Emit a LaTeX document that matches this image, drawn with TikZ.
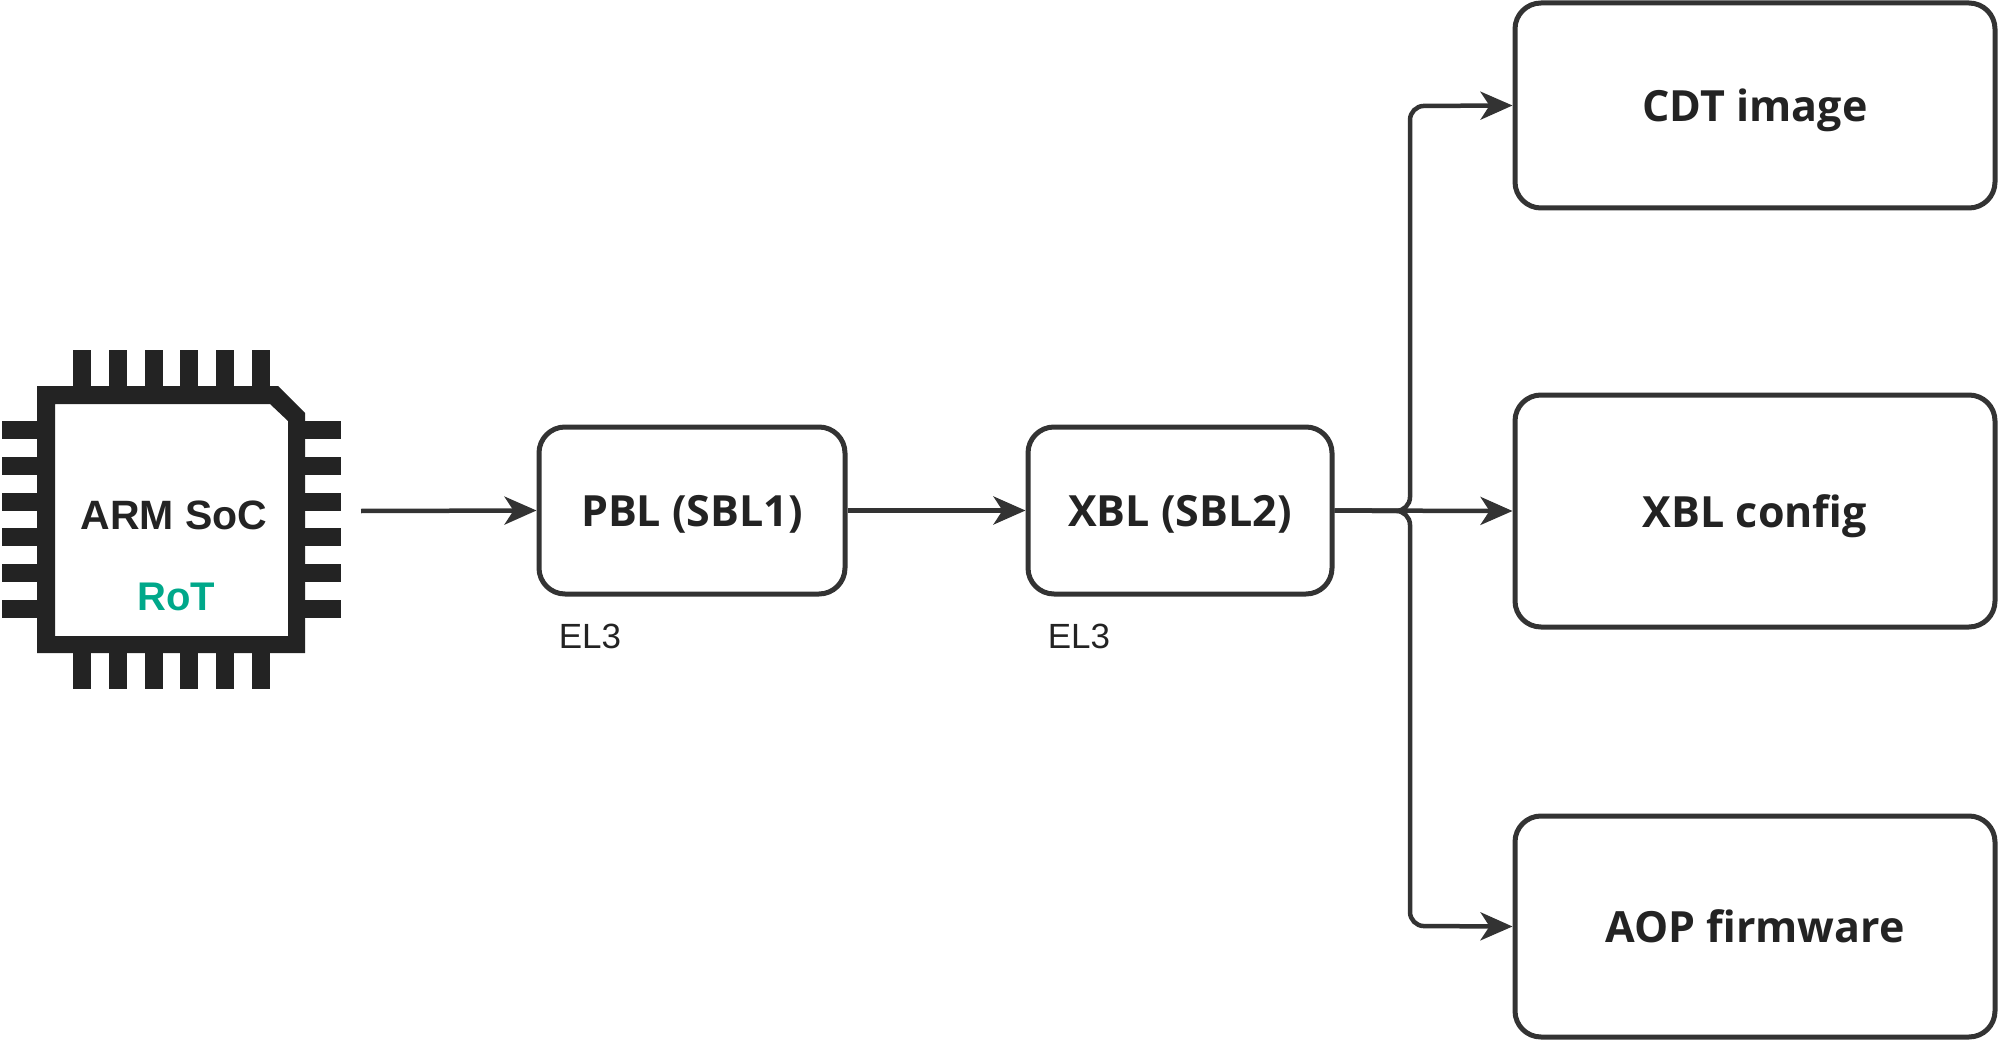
\documentclass[tikz,border=0pt]{standalone}
\usepackage{fontspec}
\setmainfont{Liberation Sans}
\newfontfamily\osb{Open Sans}
\usetikzlibrary{arrows.meta}
\definecolor{ink}{HTML}{333333}
\definecolor{chip}{HTML}{232323}
\definecolor{rot}{HTML}{00A88A}
\begin{document}
\begin{tikzpicture}[x=1pt,y=-1pt,
  box/.style={draw=ink,line width=5pt,rounded corners=26pt,font=\osb\bfseries\fontsize{43}{47}\selectfont,text=chip,text depth=0pt,inner sep=0pt},
  conn/.style={draw=ink,line width=4.5pt,-{Stealth[length=32pt,width=28pt,inset=9pt]}},
  lbl/.style={font=\fontsize{35}{38}\selectfont,text=chip}]
\useasboundingbox (0,0) rectangle (1999,1040);
% chip
\fill[chip,even odd rule] (37,386) -- (278,386) -- (305,413) -- (305,653) -- (37,653) -- cycle
  (55,404) -- (270,404) -- (288,421) -- (288,636) -- (55,636) -- cycle;
\foreach \i in {0,...,5}{
  \fill[chip] (73+35.8*\i,350) rectangle ++(18,37);
  \fill[chip] (73+35.8*\i,652) rectangle ++(18,37);
  \fill[chip] (2,421+35.8*\i) rectangle ++(36,18);
  \fill[chip] (304,421+35.8*\i) rectangle ++(37,18);
}
\node[font=\bfseries\fontsize{41}{46}\selectfont,text=chip] (soc) at (174,515) {ARM SoC};
\node[font=\bfseries\fontsize{40}{44}\selectfont,text=rot] (rotl) at (176,597) {RoT};
\coordinate (chipE) at (361,511);
\node[box,minimum width=306pt,minimum height=167pt] (pbl) at (692,510.5) {PBL (SBL1)};
\node[box,minimum width=304pt,minimum height=167pt] (xbl) at (1180,510.5) {XBL (SBL2)};
\node[lbl] (el1) at (590,636) {EL3};
\node[lbl] (el2) at (1079,636) {EL3};
\node[box,minimum width=480pt,minimum height=205pt] (cdt) at (1755,105.5) {CDT image};
\node[box,minimum width=480pt,minimum height=232pt] (cfg) at (1755,511) {XBL config};
\node[box,minimum width=480pt,minimum height=221pt] (aop) at (1755,926.5) {AOP firmware};
\draw[conn] (chipE) -- (pbl.west);
\draw[conn] (pbl.east) -- (xbl.west);
\draw[conn] (xbl.east) -- (cfg.west);
\draw[conn,rounded corners=14pt] (xbl.east) -- (1410,511) -- (1410,106) -- (cdt.west);
\draw[conn,rounded corners=14pt] (xbl.east) -- (1410,511) -- (1410,926) -- (aop.west);
\end{tikzpicture}
\end{document}
